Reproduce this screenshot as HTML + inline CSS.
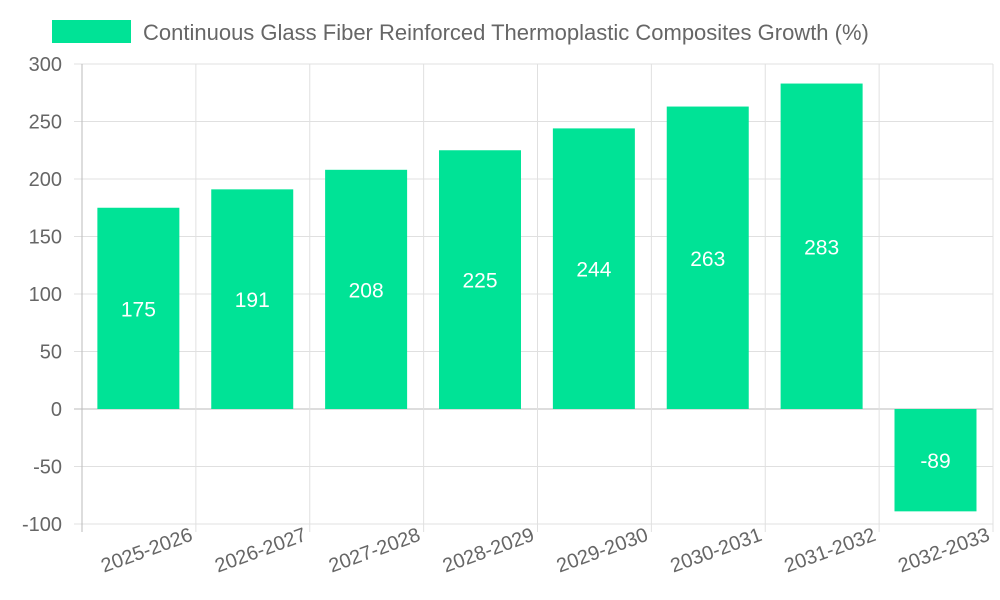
<!DOCTYPE html>
<html><head><meta charset="utf-8"><style>
body{margin:0;background:#fff;}
svg{display:block;font-family:"Liberation Sans",sans-serif;}
</style></head><body>
<svg id="chart" width="1000" height="600">
<g id="grid"></g><g id="bars"></g><g id="labels"></g>
<rect x="52" y="20" width="79" height="23" fill="#00e396"/>
<text x="143" y="40" font-size="22" fill="#666">Continuous Glass Fiber Reinforced Thermoplastic Composites Growth (%)</text>
</svg>
<script>
const categories=["2025-2026","2026-2027","2027-2028","2028-2029","2029-2030","2030-2031","2031-2032","2032-2033"];
const values=[175,191,208,225,244,263,283,-89];
const yTicks=[300,250,200,150,100,50,0,-50,-100];
const X0=82,X1=993,Y0=64,Y1=524,yMax=300,yMin=-100;
const NS="http://www.w3.org/2000/svg";
const bw=(X1-X0)/categories.length;
function y(v){return Y0+(yMax-v)*(Y1-Y0)/(yMax-yMin);}
function x(i){return X0+i*bw;}
function mk(t,a,p){const e=document.createElementNS(NS,t);for(const k in a)e.setAttribute(k,a[k]);p.appendChild(e);return e;}
const g=document.getElementById('grid'),b=document.getElementById('bars'),l=document.getElementById('labels');
yTicks.forEach(t=>{
 const ln=mk('line',{x1:X0-8,x2:X1,y1:y(t),y2:y(t),stroke:t===0?'#bbb':'#e0e0e0','stroke-width':1},g);
 
 
 const tx=mk('text',{x:X0-20,y:y(t)+7,'text-anchor':'end','font-size':20,fill:'#666'},l);
 tx.textContent=t;
 
 
});
for(let i=0;i<=categories.length;i++){
 const ln=mk('line',{x1:x(i),x2:x(i),y1:Y0,y2:Y1+8,stroke:(i===0)?'#bbb':'#e0e0e0','stroke-width':1},g);
 
 
}
categories.forEach((c,i)=>{
 const v=values[i];
 const bx=x(i)+bw*0.135,w=bw*0.72;
 const top=Math.min(y(v),y(0)),h=Math.abs(y(v)-y(0));
 const r=mk('rect',{x:bx,y:top,width:w,height:h,fill:'#00e396'},b);
 
 
 const vt=mk('text',{x:bx+w/2,y:top+h/2+8,'text-anchor':'middle','font-size':21,fill:'#fff'},l);
 vt.textContent=v;
 
 
 const cx=x(i+1)-2,cy=Y1+16;
 const ct=mk('text',{x:cx,y:cy,'text-anchor':'end','font-size':20,fill:'#666',transform:`rotate(-20 ${cx} ${cy})`},l);
 ct.textContent=c;
 
 
});
</script>
</body></html>
